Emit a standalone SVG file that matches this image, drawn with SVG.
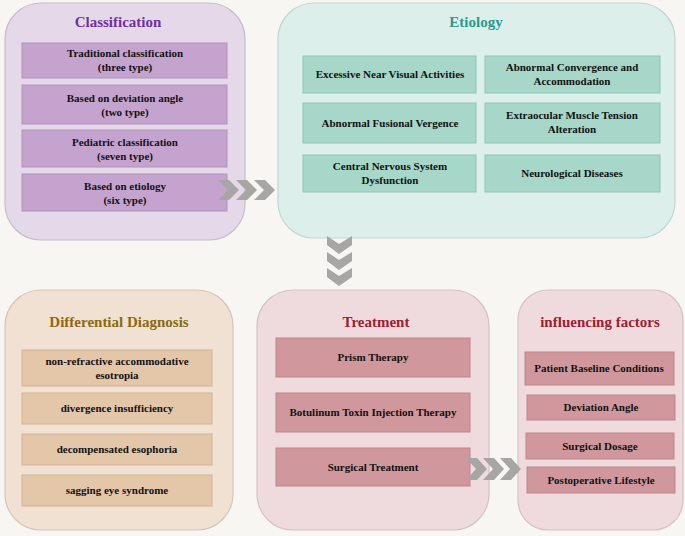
<svg xmlns="http://www.w3.org/2000/svg" width="685" height="536" viewBox="0 0 685 536">
<style>
text{font-family:"Liberation Serif",serif;font-weight:bold;font-size:11px;text-anchor:middle;fill:#111}
.t{font-size:15px}
.pan{stroke-width:1.2}
.ch{fill:#a8a6a4}
</style>
<rect width="685" height="536" fill="#f7f6f2"/>
<g id="classification">
<rect class="pan" x="5" y="3" width="240" height="237" rx="36" fill="#e5d8e9" stroke="#c8bccb"/>
<text class="t" x="118" y="27" style="fill:#7030a0">Classification</text>
<g fill="#c4a4ce" stroke="#b093bb">
<rect x="22" y="43" width="205" height="35"/><rect x="22" y="85" width="205" height="39"/>
<rect x="22" y="130" width="205" height="37"/><rect x="22" y="174" width="205" height="37"/></g>
<text x="125" y="57">Traditional classification</text><text x="125" y="71">(three type)</text>
<text x="125" y="102">Based on deviation angle</text><text x="125" y="116">(two type)</text>
<text x="125" y="146">Pediatric classification</text><text x="125" y="160">(seven type)</text>
<text x="125" y="190">Based on etiology</text><text x="125" y="204">(six type)</text>
</g>
<g id="etiology">
<rect class="pan" x="278" y="3" width="397" height="235" rx="36" fill="#ddefeb" stroke="#c2d6d1"/>
<text class="t" x="476" y="27" style="fill:#2a9a8f">Etiology</text>
<g fill="#a6d7c8" stroke="#92c3b4">
<rect x="303" y="56" width="173" height="37"/><rect x="485" y="56" width="175" height="37"/>
<rect x="303" y="103" width="173" height="40"/><rect x="485" y="103" width="175" height="40"/>
<rect x="303" y="155" width="173" height="37"/><rect x="485" y="155" width="175" height="37"/></g>
<text x="390" y="78">Excessive Near Visual Activities</text>
<text x="572" y="71">Abnormal Convergence and</text><text x="572" y="85">Accommodation</text>
<text x="390" y="127">Abnormal Fusional Vergence</text>
<text x="572" y="119">Extraocular Muscle Tension</text><text x="572" y="133">Alteration</text>
<text x="390" y="170">Central Nervous System</text><text x="390" y="184">Dysfunction</text>
<text x="572" y="177">Neurological Diseases</text>
</g>
<g id="differential">
<rect class="pan" x="5" y="290" width="228" height="240" rx="36" fill="#f1e1d3" stroke="#d6c5b6"/>
<text class="t" x="119" y="327" style="fill:#8a6a10">Differential Diagnosis</text>
<g fill="#e4c7a9" stroke="#d0b394">
<rect x="22" y="350" width="190" height="36"/><rect x="22" y="393" width="190" height="31"/>
<rect x="22" y="434" width="190" height="31"/><rect x="22" y="475" width="190" height="31"/></g>
<text x="117" y="365">non-refractive accommodative</text><text x="117" y="379">esotropia</text>
<text x="117" y="412">divergence insufficiency</text>
<text x="117" y="453">decompensated esophoria</text>
<text x="117" y="494">sagging eye syndrome</text>
</g>
<g id="treatment">
<rect class="pan" x="257" y="290" width="232" height="240" rx="36" fill="#efdbde" stroke="#d6c1c4"/>
<text class="t" x="376" y="327" style="fill:#a01c30">Treatment</text>
<g fill="#d0989c" stroke="#bd8589">
<rect x="276" y="338" width="194" height="39"/><rect x="276" y="393" width="194" height="39"/>
<rect x="276" y="448" width="194" height="38"/></g>
<text x="373" y="361">Prism Therapy</text>
<text x="373" y="416">Botulinum Toxin Injection Therapy</text>
<text x="373" y="471">Surgical Treatment</text>
</g>
<g id="influencing">
<rect class="pan" x="518" y="290" width="165" height="240" rx="30" fill="#efdbde" stroke="#d6c1c4"/>
<text class="t" x="600" y="327" style="fill:#a01c30">influencing factors</text>
<g fill="#d0989c" stroke="#bd8589">
<rect x="525" y="352" width="149" height="33"/><rect x="527" y="395" width="148" height="25"/>
<rect x="526" y="433" width="148" height="26"/><rect x="527" y="467" width="148" height="26"/></g>
<text x="599" y="372">Patient Baseline Conditions</text>
<text x="601" y="411">Deviation Angle</text>
<text x="600" y="450">Surgical Dosage</text>
<text x="601" y="484">Postoperative Lifestyle</text>
</g>
<g id="connectors" class="ch">
<path d="M218 180h11l10 10-10 10h-11l10-10z M236 180h11l10 10-10 10h-11l10-10z M254 180h11l10 10-10 10h-11l10-10z"/>
<path d="M327 236l12 8 13-8v9l-13 9-12-9z M327 252l12 8 13-8v9l-13 9-12-9z M327 268l12 8 13-8v9l-13 9-12-9z"/>
<path d="M466 458h11l10 11-10 11h-11l10-11z M483 458h11l10 11-10 11h-11l10-11z M500 458h11l10 11-10 11h-11l10-11z"/>
</g>
</svg>
